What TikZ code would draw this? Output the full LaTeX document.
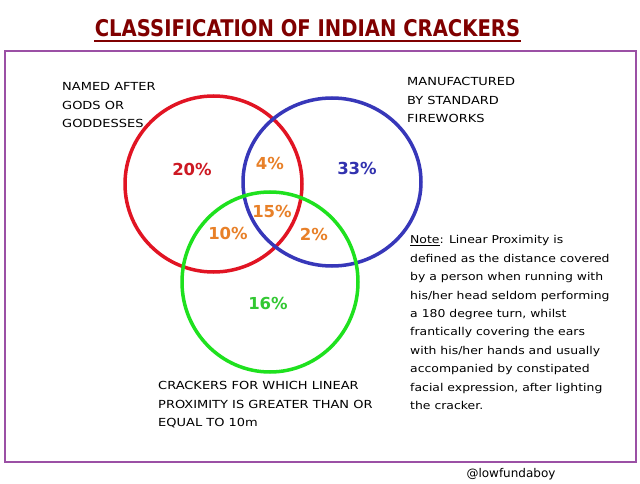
\documentclass[tikz,border=0pt]{standalone}
\usepackage{fontspec}
\setmainfont{DejaVu Sans}
\newfontfamily\capsfont[FakeStretch=1.17]{DejaVu Sans}
\newfontfamily\notefont[FakeStretch=1.15]{DejaVu Sans}
\definecolor{titlered}{RGB}{128,0,0}
\definecolor{framepurple}{RGB}{155,80,165}
\definecolor{cred}{RGB}{225,20,35}
\definecolor{cblue}{RGB}{55,55,185}
\definecolor{cgreen}{RGB}{30,225,30}
\definecolor{tred}{RGB}{205,25,35}
\definecolor{tblue}{RGB}{50,50,175}
\definecolor{tgreen}{RGB}{50,200,50}
\definecolor{torange}{RGB}{232,128,40}
\begin{document}
\begin{tikzpicture}[x=1pt,y=-1pt,
  setcircle/.style={line width=3.5pt},
  pct/.style={font=\fontsize{16.5}{18}\selectfont\bfseries, inner sep=0pt},
  lbl/.style={font=\capsfont\fontsize{11.1}{18.3}\selectfont, align=left, inner sep=0pt, anchor=north west},
  notelbl/.style={font=\notefont\fontsize{10.8}{18.4}\selectfont, align=left, inner sep=0pt, anchor=north west},
]
\useasboundingbox (0,0) rectangle (640,484);
\fill[white] (0,0) rectangle (640,484);
% title
\node[font=\fontsize{20}{24}\selectfont\bfseries, text=titlered, inner sep=0pt] (title) at (307.5,28.5) {\scalebox{0.98}[1.15]{CLASSIFICATION OF INDIAN CRACKERS}};
\draw[titlered, line width=1.3pt] (94,41) -- (521,41);
% frame
\draw[framepurple, line width=2.6pt] (5,51) rectangle (636,462);
% circles
\draw[setcircle, cred] (213.5,184) ellipse [x radius=88.5, y radius=88];
\draw[setcircle, cblue] (332,182) ellipse [x radius=89, y radius=84];
\draw[setcircle, cgreen] (270,282) ellipse [x radius=88, y radius=90];
% percentages
\node[pct, text=tred] (p20) at (192,169) {20\%};
\node[pct, text=tblue] (p33) at (357,168) {33\%};
\node[pct, text=torange] (p4) at (270,163) {4\%};
\node[pct, text=torange] (p15) at (272,211) {15\%};
\node[pct, text=torange] (p10) at (228,233) {10\%};
\node[pct, text=torange] (p2) at (314,234) {2\%};
\node[pct, text=tgreen] (p16) at (268,303) {16\%};
% labels
\node[lbl] (named) at (62,82.5) {NAMED AFTER\\GODS OR\\GODDESSES};
\node[lbl] (manu) at (407,77.5) {MANUFACTURED\\BY STANDARD\\FIREWORKS};
\node[lbl] (crack) at (158,381.5) {CRACKERS FOR WHICH LINEAR\\PROXIMITY IS GREATER THAN OR\\EQUAL TO 10m};
\node[notelbl] (note) at (410,235.5) {\underline{Note}: Linear Proximity is\\defined as the distance covered\\by a person when running with\\his/her head seldom performing\\a 180 degree turn, whilst\\frantically covering the ears\\with his/her hands and usually\\accompanied by constipated\\facial expression, after lighting\\the cracker.};
\node[font=\fontsize{12}{14}\selectfont, inner sep=0pt] (credit) at (511,474) {@lowfundaboy};
\end{tikzpicture}
\end{document}
